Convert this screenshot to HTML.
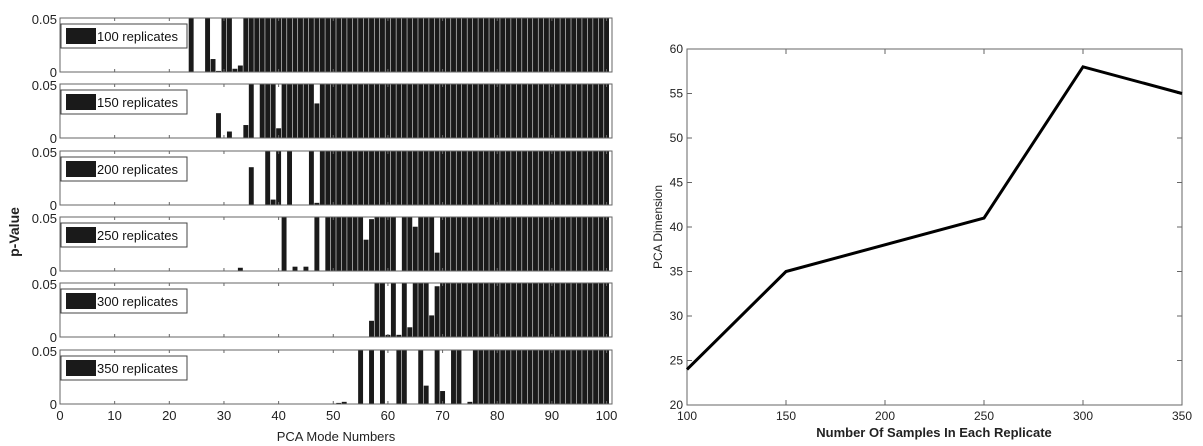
<!DOCTYPE html>
<html><head><meta charset="utf-8"><style>
html,body{margin:0;padding:0;background:#fff;}
svg{display:block;font-family:"Liberation Sans",Arial,sans-serif;}
</style></head><body>
<svg id="fig" width="1203" height="446" viewBox="0 0 1203 446"></svg>
<script>
// ---- Left: p-value bar panels ----
const panelLabels = ["100 replicates","150 replicates","200 replicates","250 replicates","300 replicates","350 replicates"];
// first mode from which all bars are full (>=0.05)
const fullFrom = [34, 41, 48, 49, 70, 76];
// explicit values before / exceptions [mode, pvalue]
const exceptions = [
 [[24,0.05],[27,0.05],[28,0.012],[29,0.001],[30,0.05],[31,0.05],[32,0.003],[33,0.006]],
 [[29,0.023],[31,0.006],[34,0.012],[35,0.05],[37,0.05],[38,0.05],[39,0.05],[40,0.009],[47,0.032]],
 [[35,0.035],[38,0.05],[39,0.005],[40,0.05],[42,0.05],[46,0.05],[47,0.002]],
 [[33,0.003],[41,0.05],[43,0.004],[45,0.004],[47,0.05],[56,0.029],[57,0.048],[62,0],[65,0.041],[69,0.017]],
 [[57,0.015],[58,0.05],[59,0.05],[60,0.002],[61,0.05],[62,0.002],[63,0.05],[64,0.009],[65,0.05],[66,0.05],[67,0.05],[68,0.02],[69,0.047]],
 [[51,0.001],[52,0.002],[55,0.05],[57,0.05],[59,0.05],[62,0.05],[63,0.05],[66,0.05],[67,0.017],[69,0.05],[70,0.012],[72,0.05],[73,0.05],[75,0.002]]
];
const xTicks = [0,10,20,30,40,50,60,70,80,90,100];
// ---- Right: line chart ----
const lineX = [100,150,250,300,350];
const lineY = [24,35,41,58,55];
const rxTicks = [100,150,200,250,300,350];
const ryTicks = [20,25,30,35,40,45,50,55,60];

const NS="http://www.w3.org/2000/svg";
const svg=document.getElementById('fig');
function el(t,a,p){const e=document.createElementNS(NS,t);for(const k in a)e.setAttribute(k,a[k]);(p||svg).appendChild(e);return e;}
function txt(s,a,p){const e=el('text',a,p);e.textContent=s;return e;}

const L0=60,L1=612,xmax=101;
const lx=v=>L0+v/xmax*(L1-L0);
const tops=[18,84,151,217,283,350], H=54;
panelLabels.forEach((lab,i)=>{
  const g=el('g',{});
  
  
  const top=tops[i],bot=top+H;
  const ly=v=>bot-Math.min(v,0.05)/0.05*H;
  const vals={};
  for(let m=fullFrom[i];m<=100;m++)vals[m]=0.05;
  exceptions[i].forEach(([m,v])=>{vals[m]=v;});
  for(const m in vals){const v=vals[m];if(v<=0)continue;
    const r=el('rect',{x:lx(m-0.45),y:ly(v),width:lx(0.9)-L0,height:bot-ly(v),fill:'#1a1a1a'},g);
    
    
  }
  el('rect',{x:L0,y:top,width:L1-L0,height:H,fill:'none',stroke:'#666','stroke-width':1},g);
  xTicks.forEach(t=>{el('line',{x1:lx(t),x2:lx(t),y1:bot,y2:bot-3,stroke:'#666'},g);el('line',{x1:lx(t),x2:lx(t),y1:top,y2:top+3,stroke:'#666'},g);});
  const a=txt('0.05',{x:L0-3,y:top+6,'text-anchor':'end','font-size':13,fill:'#222'},g);
  
  const b=txt('0',{x:L0-3,y:bot+5,'text-anchor':'end','font-size':13,fill:'#222'},g);
  
  const lg=el('g',{},g);
  
  
  el('rect',{x:L0+1,y:top+6,width:126,height:24,fill:'#fff',stroke:'#444'},lg);
  el('rect',{x:L0+6,y:top+10,width:30,height:16,fill:'#1a1a1a'},lg);
  txt(lab,{x:L0+37,y:top+23,'font-size':13,fill:'#111'},lg);
});
xTicks.forEach(t=>{const e=txt(String(t),{x:lx(t),y:420,'text-anchor':'middle','font-size':13,fill:'#222'});
  });
let e=txt('PCA Mode Numbers',{x:336,y:441,'text-anchor':'middle','font-size':13,fill:'#222'});

e=txt('p-Value',{x:0,y:0,'text-anchor':'middle','font-size':14,'font-weight':'bold',fill:'#222',transform:'translate(19,232) rotate(-90)'});


// right chart
const R0=687,R1=1182,RT=49,RB=405;
const rx=v=>R0+(v-100)/250*(R1-R0);
const ry=v=>RB-(v-20)/40*(RB-RT);
const rg=el('g',{});


el('rect',{x:R0,y:RT,width:R1-R0,height:RB-RT,fill:'none',stroke:'#666'},rg);
rxTicks.forEach(t=>{el('line',{x1:rx(t),x2:rx(t),y1:RB,y2:RB-5,stroke:'#666'},rg);el('line',{x1:rx(t),x2:rx(t),y1:RT,y2:RT+5,stroke:'#666'},rg);
  const e=txt(String(t),{x:rx(t),y:RB+15,'text-anchor':'middle','font-size':12,fill:'#222'},rg);
  });
ryTicks.forEach(t=>{el('line',{x1:R0,x2:R0+5,y1:ry(t),y2:ry(t),stroke:'#666'},rg);el('line',{x1:R1,x2:R1-5,y1:ry(t),y2:ry(t),stroke:'#666'},rg);
  const e=txt(String(t),{x:R0-4,y:ry(t)+4,'text-anchor':'end','font-size':12,fill:'#222'},rg);
  });
const pl=el('polyline',{points:lineX.map((x,i)=>rx(x)+','+ry(lineY[i])).join(' '),fill:'none',stroke:'#000','stroke-width':3,'stroke-linejoin':'miter'},rg);


e=txt('Number Of Samples In Each Replicate',{x:934,y:437,'text-anchor':'middle','font-size':13,'font-weight':'bold',fill:'#222'},rg);

e=txt('PCA Dimension',{x:0,y:0,'text-anchor':'middle','font-size':12,fill:'#222',transform:'translate(662,227) rotate(-90)'},rg);

</script>
</body></html>
